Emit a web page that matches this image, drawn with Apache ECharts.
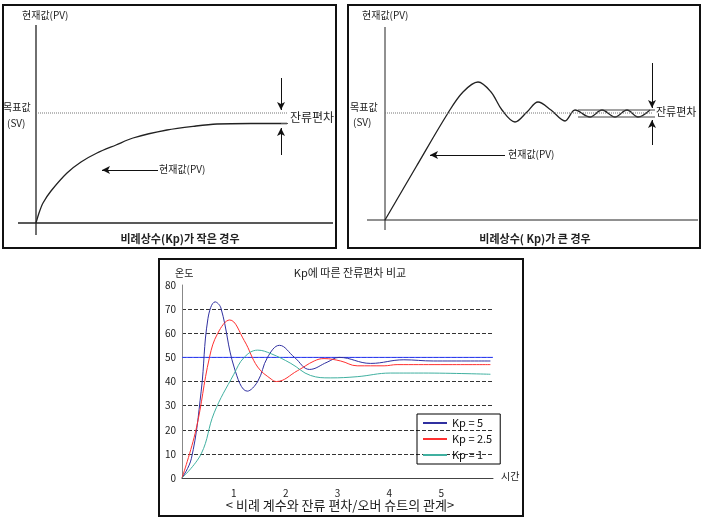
<!DOCTYPE html>
<html><head><meta charset="utf-8">
<script src="https://cdn.jsdelivr.net/npm/echarts@6/dist/echarts.min.js"></script>
<style>html,body{margin:0;padding:0;background:#fff}#c{width:704px;height:518px}</style>
</head><body><div id="c"></div>
<script>
// Top-left panel (small Kp): x,y in panel units
const smallKpCurve = [[0,0],[3,10],[7,20],[15,32],[31,50],[45,61],[61,70],[80,78],[97,85],[131,93],[160,97],[181,99],[215,99.5],[251,99.5]];
const smallKpSetpoint = 110;
// Top-right panel (large Kp)
const largeKpCurve = [[0,0],[31,53],[63,107],[78,128],[93,138],[106,128],[117,110],[130,98],[142,108],[153,118],[166,110],[180,99],[190,110],[205,103],[217,110],[230,103],[242,110],[253,103],[265,110]];
const largeKpSetpoint = 107;
const largeKpBand = [110, 103];
// Bottom chart
const seriesNames = ['Kp = 5','Kp = 2.5','Kp = 1'];
const kp5 = [[0,0],[0.18,8],[0.37,36],[0.5,66],[0.64,73],[0.75,70.5],[1.01,45.6],[1.26,36],[1.46,40],[1.65,50],[1.88,55],[2.17,50],[2.46,45],[2.8,48],[3.03,50],[3.64,47.5],[4.28,49],[4.85,48.5],[5.95,48.5]];
const kp25 = [[0,0],[0.27,20],[0.53,50],[0.69,60],[0.92,65.5],[1.2,57],[1.46,46],[1.72,41],[1.82,40],[2.23,44.5],[2.55,48.5],[2.74,49.5],[3.06,48.5],[3.38,46.5],[3.9,46.5],[4.15,47],[4.98,47],[5.95,47]];
const kp1 = [[0,0],[0.37,10],[0.62,27],[1.0,43],[1.2,50],[1.46,53],[1.72,51.5],[2.1,47.5],[2.48,42.5],[2.86,41.5],[3.38,42],[4.02,43.5],[4.66,43.5],[5.95,43]];
const targetTemp = 50;
const xTicks = [1,2,3,4,5];

const F = '"Noto Sans CJK KR", sans-serif';
const ch = echarts.init(document.getElementById('c'));
function arrowML(lines){
  return {silent:true, symbol:['none','arrow'], symbolSize:[6,8], label:{show:false},
    lineStyle:{color:'#111',type:'solid',width:1}, data:lines};
}
function txt(x,y,t,s,align,bold){return {type:'text',x:x,y:y,style:{text:t,font:(bold?'bold ':'')+(s||11)+'px '+F,fill:'#222',textAlign:align||'left',textVerticalAlign:'top'}};}
function ln(x1,y1,x2,y2,c,w){return {type:'line',shape:{x1,y1,x2,y2},style:{stroke:c||'#111',lineWidth:w||1}};}

ch.setOption({
  animation:false,
  title:{text:'Kp에 따른 잔류편차 비교',left:345,top:262,textAlign:'center',textStyle:{fontFamily:F,fontSize:11,fontWeight:'normal',color:'#222'}},
  legend:{data:seriesNames,orient:'vertical',left:417,top:414,borderColor:'#000',borderWidth:1,padding:[3,8,3,6],itemGap:4,
    itemWidth:24,itemHeight:2,icon:'rect',textStyle:{fontFamily:F,fontSize:11,color:'#111',lineHeight:12,height:12}},
  grid:[
    {left:36,top:23,width:300,height:200},
    {left:385,top:20,width:313,height:200},
    {left:182,top:285,width:311,height:193}
  ],
  xAxis:[
    {gridIndex:0,type:'value',min:0,max:300,show:false},
    {gridIndex:1,type:'value',min:0,max:313,show:false},
    {gridIndex:2,type:'value',min:0,max:6,interval:1,
      axisLine:{lineStyle:{color:'#444'}},axisTick:{show:false},splitLine:{show:false},
      axisLabel:{margin:10,fontFamily:F,fontSize:10,color:'#222',formatter:v=>xTicks.includes(v)?String(v):''}}
  ],
  yAxis:[
    {gridIndex:0,type:'value',min:0,max:200,show:false},
    {gridIndex:1,type:'value',min:0,max:200,show:false},
    {gridIndex:2,type:'value',min:0,max:80,interval:10,
      axisLine:{show:true,lineStyle:{color:'#888'}},axisTick:{show:false},
      axisLabel:{fontFamily:F,fontSize:10,color:'#222',margin:6},
      splitLine:{show:true,lineStyle:{type:'dashed',width:1,color:['transparent','#333','#333','#333','#333','#333','#333','#333','transparent']}}}
  ],
  series:[
    {type:'line',xAxisIndex:0,yAxisIndex:0,data:smallKpCurve,smooth:0.3,symbol:'none',lineStyle:{color:'#222',width:1.3},
      markLine:arrowML([
        [{coord:[245,145]},{coord:[245,113]}],
        [{coord:[245,68]},{coord:[245,95]}],
        [{coord:[122,53]},{coord:[66,53]}]
      ])},
    {type:'line',xAxisIndex:0,yAxisIndex:0,data:[[0,smallKpSetpoint],[251,smallKpSetpoint]],symbol:'none',lineStyle:{color:'#777',width:1,type:'dotted'}},
    {type:'line',xAxisIndex:0,yAxisIndex:0,data:[[245,99.5],[252,99.5]],symbol:'none',lineStyle:{color:'#555',width:1}},
    {type:'line',xAxisIndex:1,yAxisIndex:1,data:largeKpCurve,smooth:0.35,symbol:'none',lineStyle:{color:'#222',width:1.3},
      markLine:arrowML([
        [{coord:[267,157]},{coord:[267,112]}],
        [{coord:[267,75]},{coord:[267,100]}],
        [{coord:[120,65]},{coord:[45,65]}]
      ])},
    {type:'line',xAxisIndex:1,yAxisIndex:1,data:[[0,largeKpSetpoint],[268,largeKpSetpoint]],symbol:'none',lineStyle:{color:'#777',width:1,type:'dotted'}},
    {type:'line',xAxisIndex:1,yAxisIndex:1,data:[[193,largeKpBand[0]],[270,largeKpBand[0]]],symbol:'none',lineStyle:{color:'#444',width:1}},
    {type:'line',xAxisIndex:1,yAxisIndex:1,data:[[193,largeKpBand[1]],[270,largeKpBand[1]]],symbol:'none',lineStyle:{color:'#444',width:1}},
    {name:'target',type:'line',xAxisIndex:2,yAxisIndex:2,data:[[0,targetTemp],[6,targetTemp]],symbol:'none',lineStyle:{color:'#3344ff',width:1}},
    {name:seriesNames[0],type:'line',xAxisIndex:2,yAxisIndex:2,data:kp5,smooth:0.4,symbol:'none',color:'#3030a0',lineStyle:{width:1}},
    {name:seriesNames[1],type:'line',xAxisIndex:2,yAxisIndex:2,data:kp25,smooth:0.4,symbol:'none',color:'#ff3030',lineStyle:{width:1}},
    {name:seriesNames[2],type:'line',xAxisIndex:2,yAxisIndex:2,data:kp1,smooth:0.4,symbol:'none',color:'#40b0a0',lineStyle:{width:1}}
  ],
  graphic:[
    {type:'rect',shape:{x:3,y:5,width:333,height:243},style:{fill:'none',stroke:'#111',lineWidth:2}},
    {type:'rect',shape:{x:348,y:5,width:352,height:243},style:{fill:'none',stroke:'#111',lineWidth:2}},
    {type:'rect',shape:{x:159,y:259,width:364,height:257},style:{fill:'none',stroke:'#111',lineWidth:2}},
    ln(36,25,36,235,'#222',1.3), ln(18,223,333,223,'#222',1.3),
    ln(385,27,385,230,'#222',1), ln(367,220,698,220,'#222',1),
    txt(22,10,'현재값(PV)',10), txt(3,102,'목표값',10), txt(7,118,'(SV)',10),
    txt(290,111,'잔류편차',12), txt(159,164,'현재값(PV)',10),
    txt(180,233,'비례상수(Kp)가 작은 경우',11,'center',true),
    txt(362,10,'현재값(PV)',10), txt(350,102,'목표값',10), txt(353,117,'(SV)',10),
    txt(656,106,'잔류편차',11), txt(508,149,'현재값(PV)',10),
    txt(535,233,'비례상수( Kp)가 큰 경우',11,'center',true),
    txt(175,268,'온도',10), txt(501,471,'시간',10),
    txt(340,499,'< 비례 계수와 잔류 편차/오버 슈트의 관계>',13,'center')
  ]
});
</script></body></html>
